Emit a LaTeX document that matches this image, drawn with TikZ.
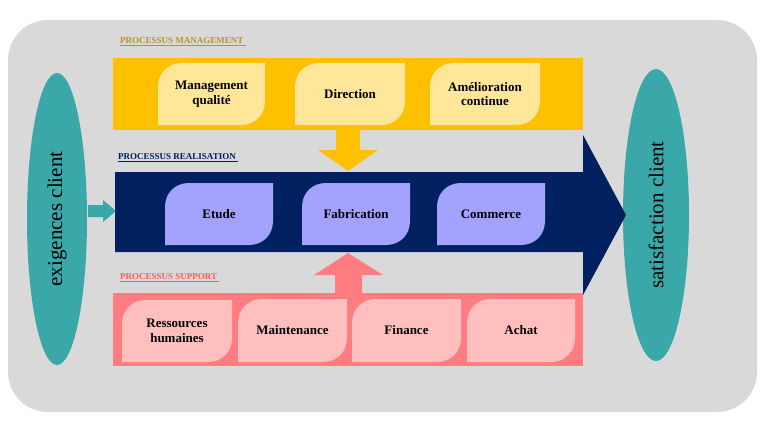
\documentclass[tikz,border=0pt]{standalone}
\usepackage{fontspec}
\setmainfont{Liberation Serif}
\usetikzlibrary{shapes.geometric}
\definecolor{bg}{HTML}{D9D9D9}
\definecolor{teal}{HTML}{3AA8A8}
\definecolor{ymain}{HTML}{FFC000}
\definecolor{ybox}{HTML}{FFE699}
\definecolor{navy}{HTML}{002060}
\definecolor{pbox}{HTML}{A3A3FF}
\definecolor{rmain}{HTML}{FF7C80}
\definecolor{rbox}{HTML}{FFBFBF}
\definecolor{gold}{HTML}{B8922A}
\definecolor{redlab}{HTML}{FF5B5B}
\newcommand{\leafbox}[7]{%
 \fill[#6] (#2,#5) -- (#2,#3+24) .. controls (#2,#3+10) and (#2+10,#3) .. (#2+24,#3) -- (#4,#3) -- (#4,#5-24) .. controls (#4,#5-10) and (#4-10,#5) .. (#4-24,#5) -- cycle;
 \node[lbl] (#1) at ({(#2+#4)/2},{(#3+#5)/2}) {#7};}
\begin{document}
\begin{tikzpicture}[x=1pt,y=-1pt,
 lbl/.style={align=center,font=\fontsize{13}{14.5}\selectfont\bfseries,inner sep=0pt},
 title/.style={anchor=west,font=\fontsize{9}{10}\selectfont\bfseries,inner sep=0pt}]
\useasboundingbox (0,0) rectangle (768,433);
\fill[white] (0,0) rectangle (768,433);
\fill[bg,rounded corners=40] (8,20) rectangle (757,412);
% left / right
\node[ellipse,fill=teal,minimum width=60,minimum height=292,inner sep=0pt] (ex) at (57,219) {};
\node[rotate=90,font=\fontsize{21}{24}\selectfont] at (ex) {exigences client};
\node[ellipse,fill=teal,minimum width=66,minimum height=292,inner sep=0pt] (sat) at (656,215) {};
\node[rotate=90,font=\fontsize{21}{24}\selectfont] at (sat) {satisfaction client};
% small teal arrow
\fill[teal] (88,205) -- (103,205) -- (103,200) -- (116,211) -- (103,222) -- (103,217) -- (88,217) -- cycle;
% management
\node[title,text=gold] (tm) at (120,42) {\underline{PROCESSUS MANAGEMENT\ }};
\fill[ymain] (113,58) rectangle (583,130);
\leafbox{mq}{158}{63}{265}{125}{ybox}{Management\\qualité}
\leafbox{dir}{295}{63}{405}{125}{ybox}{Direction}
\leafbox{am}{430}{63}{540}{125}{ybox}{Amélioration\\continue}
% realisation
\node[title,text=navy] (tr) at (118,158) {\underline{PROCESSUS REALISATION\ }};
\fill[navy] (115,172) -- (583,172) -- (583,135) -- (626,215) -- (583,295) -- (583,252) -- (115,252) -- cycle;
\fill[ymain] (336,130) -- (360,130) -- (360,150) -- (378,150) -- (348,171) -- (318,150) -- (336,150) -- cycle;
\leafbox{et}{165}{183}{273}{245}{pbox}{Etude}
\leafbox{fab}{302}{183}{410}{245}{pbox}{Fabrication}
\leafbox{com}{437}{183}{545}{245}{pbox}{Commerce}
% support
\fill[rmain] (335,294) -- (362,294) -- (362,275) -- (383,275) -- (348,253) -- (314,275) -- (335,275) -- cycle;
\node[title,text=redlab] (ts) at (120,278) {\underline{PROCESSUS SUPPORT\ }};
\fill[rmain] (113,293) rectangle (583,366);
\leafbox{rh}{122}{300}{232}{362}{rbox}{Ressources\\humaines}
\leafbox{mt}{238}{299}{347}{362}{rbox}{Maintenance}
\leafbox{fin}{352}{299}{461}{362}{rbox}{Finance}
\leafbox{ach}{467}{299}{575}{362}{rbox}{Achat}
\end{tikzpicture}
\end{document}
